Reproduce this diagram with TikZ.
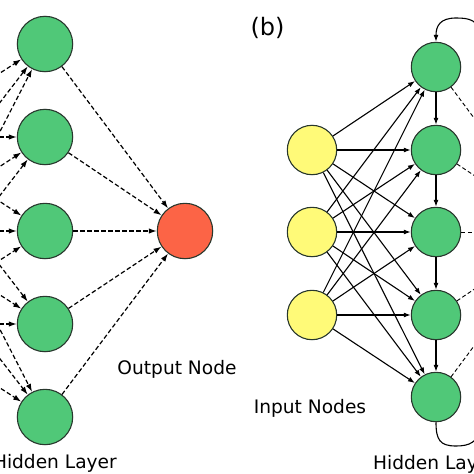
\documentclass[tikz,border=0pt]{standalone}
\usepackage{fontspec}
\setmainfont{DejaVu Sans}
\usetikzlibrary{arrows.meta}
\definecolor{hgreen}{RGB}{80,200,120}
\definecolor{iyellow}{RGB}{255,250,120}
\definecolor{ored}{RGB}{252,100,70}
\definecolor{edgec}{RGB}{40,55,45}
\begin{document}
\begin{tikzpicture}[x=1pt,y=-1pt,
  bignode/.style={circle,draw=edgec,line width=1.1pt,minimum size=55.4pt,inner sep=0pt},
  smallnode/.style={circle,draw=edgec,line width=1.1pt,minimum size=49.4pt,inner sep=0pt},
  dasharrow/.style={dashed,dash pattern=on 4.5pt off 2.5pt,line width=1.2pt,-{Latex[length=8pt,width=5.5pt]}},
  solidarrow/.style={line width=1.1pt,-{Latex[length=7pt,width=5pt]}},
  dashline/.style={dashed,dash pattern=on 4pt off 2.5pt,line width=0.9pt},
  lbl/.style={font=\fontsize{18.6}{20}\selectfont,inner sep=0pt}]
\useasboundingbox (0,0) rectangle (474,474);
\clip (0,0) rectangle (474,474);
% ---------- left panel ----------
\coordinate (li1) at (-99,137);
\coordinate (li2) at (-99,231);
\coordinate (li3) at (-99,324);
\foreach \n/\y in {1/44,2/137,3/231,4/324,5/417}
  \node[bignode,fill=hgreen] (g\n) at (45,\y) {};
\node[bignode,fill=ored] (o) at (185,231) {};
\foreach \i in {1,2,3}
  \foreach \n in {1,...,5}
    \draw[dasharrow] (li\i) -- (g\n);
\foreach \n in {1,...,5}
  \draw[dasharrow] (g\n) -- (o);
\node[lbl] (outlbl) at (177,369) {Output Node};
\node[lbl,anchor=base east] (hidlbl) at (117,468) {Hidden Layer};
% ---------- right panel ----------
\node[font=\fontsize{24}{26}\selectfont,inner sep=0pt] (blbl) at (267.5,28) {(b)};
\foreach \n/\y in {1/150,2/232,3/315}
  \node[smallnode,fill=iyellow] (i\n) at (312,\y) {};
\foreach \n/\y in {1/67,2/150,3/232,4/315,5/397}
  \node[smallnode,fill=hgreen] (h\n) at (436,\y) {};
\coordinate (ro) at (559,232);
\foreach \i in {1,2,3}
  \foreach \n in {1,...,5}
    \draw[solidarrow] (i\i) -- (h\n);
\foreach \a/\b in {1/2,2/3,3/4,4/5}
  \draw[solidarrow] (h\a) -- (h\b);
\foreach \n in {1,...,5}
  \draw[dashline] (h\n) -- (ro);
\coordinate (lt) at (482,36);
\coordinate (lb) at (482,428);
\draw[solidarrow] (lt) .. controls (478,20) and (470,18) .. (456,18)
  .. controls (440,18) and (436,26) .. (h1.north);
\draw[line width=1.1pt] (h5.south) .. controls (436,440) and (440,446) .. (456,446)
  .. controls (470,446) and (477,442) .. (lb);
\node[lbl] (inlbl) at (310,408) {Input Nodes};
\node[lbl,anchor=base west] (hid2lbl) at (373,469) {Hidden Layer};
\end{tikzpicture}
\end{document}
